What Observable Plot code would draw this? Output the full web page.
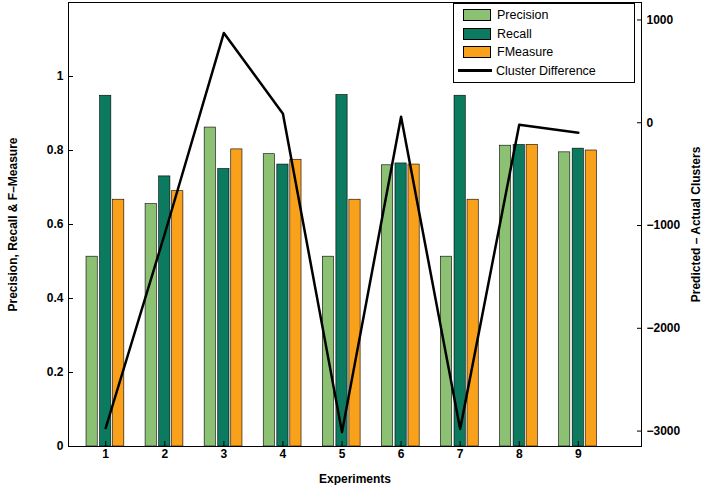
<!DOCTYPE html>
<html><head><meta charset="utf-8">
<script src="https://cdn.jsdelivr.net/npm/d3@7"></script>
<script src="https://cdn.jsdelivr.net/npm/@observablehq/plot@0.6"></script>
<style>body{margin:0;background:#fff;font-family:"Liberation Sans",Arial,sans-serif}#wrap{position:relative;width:703px;height:485px}
#leg{position:absolute;left:453px;top:3px;width:180px;border:1px solid #000;background:#fff;font-size:12.5px;padding:2px 0}
#leg div{display:flex;align-items:center;height:18.5px}
#leg span.s{display:inline-block;width:26px;height:10px;margin:0 6px 0 9px;border:1px solid #000}
#leg span.l{display:inline-block;width:34px;height:3px;background:#000;margin:0 4px 0 4px}</style>
</head><body><div id="wrap"><div id="leg">
<div><span class="s" style="background:#8cc174"></span>Precision</div>
<div><span class="s" style="background:#0b7a5e"></span>Recall</div>
<div><span class="s" style="background:#f9a11b"></span>FMeasure</div>
<div><span class="l"></span>Cluster Difference</div></div></div>
<script>
const experiments=[1,2,3,4,5,6,7,8,9];
const precision=[0.513,0.655,0.862,0.79,0.513,0.76,0.513,0.813,0.795];
const recall=[0.948,0.73,0.75,0.762,0.95,0.765,0.948,0.815,0.805];
const fmeasure=[0.667,0.69,0.803,0.775,0.667,0.762,0.667,0.815,0.8];
const clusterDiff=[-2970,-1080,874,87,-3010,58,-2980,-20,-97];
const series=[["Precision",precision,"#8cc174",-0.23],["Recall",recall,"#0b7a5e",0],["FMeasure",fmeasure,"#f9a11b",0.22]];
const bars=[];
for(const [name,vals,col,off] of series) experiments.forEach((e,i)=>bars.push({x1:e+off-0.095,x2:e+off+0.095,y:vals[i],col}));
const rmin=-3150,rmax=1170,L=1.2;
const toL=v=>(v-rmin)/(rmax-rmin)*L;
const line=experiments.map((e,i)=>({x:e,y:toL(clusterDiff[i])}));
const rticks=[-3000,-2000,-1000,0,1000];
const plot=Plot.plot({width:703,height:485,marginLeft:68,marginRight:62,marginTop:2,marginBottom:39,
 style:{fontFamily:"Liberation Sans, Arial, sans-serif",fontSize:"12px",color:"#000"},
 x:{domain:[0.37,10.07]},y:{domain:[0,L]},
 marks:[
  Plot.rect(bars,{x1:"x1",x2:"x2",y1:0,y2:"y",fill:"col",stroke:"#000",strokeWidth:0.6}),
  Plot.line(line,{x:"x",y:"y",stroke:"#000",strokeWidth:2.5}),
  Plot.frame({stroke:"#000"}),
  Plot.axisX({ticks:experiments,tickFormat:d=>d,tickSize:-5,label:"Experiments",labelAnchor:"center",labelArrow:"none",fontSize:12,fontWeight:"bold",tickPadding:8}),
  Plot.axisY({ticks:[0,0.2,0.4,0.6,0.8,1],tickFormat:d=>d===0||d===1?String(d):d.toFixed(1),tickSize:-5,tickPadding:10,label:"Precision, Recall & F–Measure",labelAnchor:"center",labelArrow:"none",labelOffset:60}),
  Plot.axisY({anchor:"right",ticks:rticks.map(toL),tickFormat:(d,i)=>String(rticks[i]).replace("-","−"),tickSize:-5,tickPadding:10,label:"Predicted – Actual Clusters",labelAnchor:"center",labelArrow:"none",labelOffset:58})
 ]});
plot.querySelectorAll("[aria-label$='label'] text, g[aria-label='x-axis label'] text, g[aria-label='y-axis label'] text").forEach(t=>t.setAttribute("font-weight","bold"));
document.getElementById("wrap").prepend(plot);
</script></body></html>
